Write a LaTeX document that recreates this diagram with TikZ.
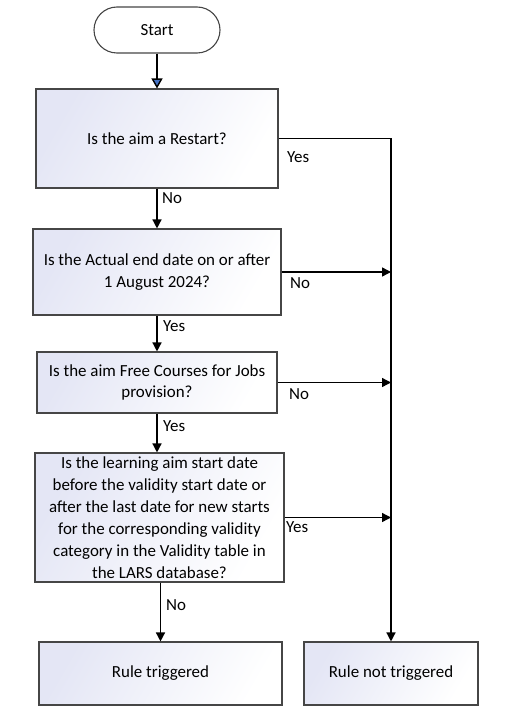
\documentclass[tikz,border=0pt]{standalone}
\usepackage{fontspec}
\setmainfont{Carlito}
\usetikzlibrary{arrows.meta}
\definecolor{lav}{RGB}{228,230,245}
\definecolor{edge}{RGB}{70,70,70}
\definecolor{tipblue}{RGB}{68,114,196}
\tikzset{
  box/.style={draw=edge, line width=1.1bp, left color=lav, middle color=white, right color=white, shading angle=60,
    align=center, font=\fontsize{17}{22}\selectfont, inner sep=2bp},
  conn/.style={line width=1.4bp, draw=black, -{Triangle[length=9bp,width=9bp]}},
  lbl/.style={anchor=west, font=\fontsize{17}{22}\selectfont, inner sep=0pt}
}
\begin{document}
\begin{tikzpicture}[x=1bp,y=-1bp]
\useasboundingbox (0,0) rectangle (522,715);
\node[draw=edge, line width=1.1bp, fill=white, rounded corners=23bp, minimum width=126bp, minimum height=46bp,
  font=\fontsize{17}{22}\selectfont] (start) at (157,30) {Start};
\node[box, minimum width=242bp, minimum height=99bp] (b1) at (157,138.5) {Is the aim a Restart?};
\node[box, minimum width=248bp, minimum height=86bp] (b2) at (157,272) {Is the Actual end date on or after\\1 August 2024?};
\node[box, minimum width=240bp, minimum height=61bp] (b3) at (157,382.5) {Is the aim Free Courses for Jobs\\provision?};
\node[box, minimum width=249bp, minimum height=129bp] (b4) at (159.5,517.5) {Is the learning aim start date\\before the validity start date or\\after the last date for new starts\\for the corresponding validity\\category in the Validity table in\\the LARS database?};
\node[box, minimum width=243bp, minimum height=63bp] (rt) at (160.5,673.5) {Rule triggered};
\node[box, minimum width=174bp, minimum height=63bp] (rn) at (391,673.5) {Rule not triggered};

\draw[line width=1.4bp, -{Triangle[length=10bp,width=11bp,fill=tipblue]}, draw=black] (start.south) -- (start.south |- b1.north);
\draw[conn] (b1.south) -- (b1.south |- b2.north);
\draw[conn] (b2.south) -- (b2.south |- b3.north);
\draw[conn] (b3.south) -- (b3.south |- b4.north);
\draw[conn] (b4.south -| rt.north) -- (rt.north);
\draw[conn] (b1.east) -- (b1.east -| rn.north) -- (rn.north);
\draw[conn] (b2.east) -- (b2.east -| rn.north);
\draw[conn] (b3.east) -- (b3.east -| rn.north);
\draw[conn] (b4.east) -- (b4.east -| rn.north);

\node[lbl] (l1) at (162,198) {No};
\node[lbl] (l2) at (287,157) {Yes};
\node[lbl] (l3) at (290,283) {No};
\node[lbl] (l4) at (163,326) {Yes};
\node[lbl] (l5) at (289,394) {No};
\node[lbl] (l6) at (163,426) {Yes};
\node[lbl] (l7) at (286,527) {Yes};
\node[lbl] (l8) at (166,605) {No};
\end{tikzpicture}
\end{document}
